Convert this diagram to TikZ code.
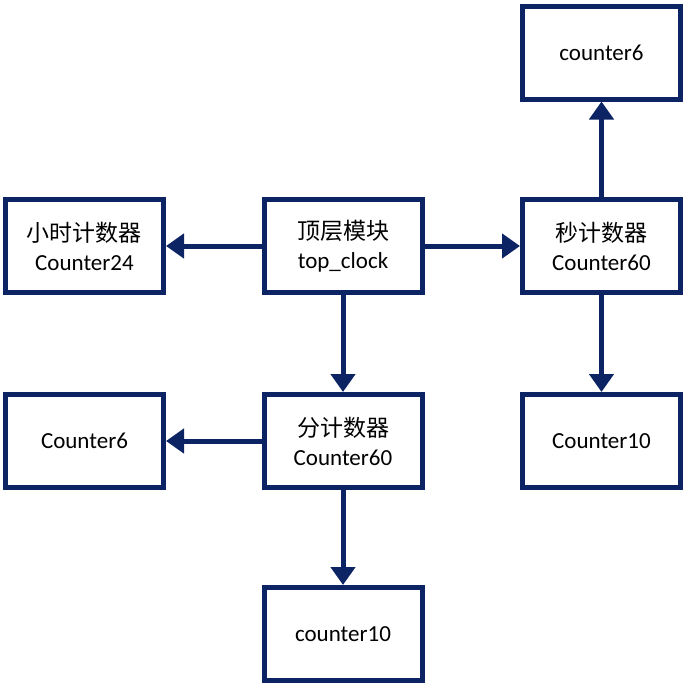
\documentclass[tikz,border=0pt]{standalone}
\usepackage{fontspec}
\setmainfont{Carlito}
\newfontfamily\cjk{Noto Sans CJK SC}
\usetikzlibrary{arrows.meta}
\definecolor{navy}{HTML}{0C2463}
\begin{document}
\begin{tikzpicture}[x=1pt,y=-1pt,
  box/.style={draw=navy,line width=5pt,minimum width=158pt,minimum height=93pt,align=center,font=\fontsize{23}{29}\selectfont,inner sep=0pt},
  arr/.style={draw=navy,line width=5pt,-{Triangle[length=18pt,width=24pt]}}]
\useasboundingbox (0,0) rectangle (688,688);
\node[box] (c6) at (601.5,52.5) {counter6};
\node[box] (h) at (84.5,246) {{\cjk 小时计数器}\\Counter24};
\node[box] (top) at (343,246) {{\cjk 顶层模块}\\top\_clock};
\node[box] (s) at (601.5,246) {{\cjk 秒计数器}\\Counter60};
\node[box] (m6) at (84.5,441) {Counter6};
\node[box] (m) at (343,441) {{\cjk 分计数器}\\Counter60};
\node[box] (s10) at (601.5,441) {Counter10};
\node[box] (m10) at (343,634) {counter10};
\draw[arr] (top) -- (h);
\draw[arr] (top) -- (s);
\draw[arr] (top) -- (m);
\draw[arr] (s) -- (c6);
\draw[arr] (s) -- (s10);
\draw[arr] (m) -- (m6);
\draw[arr] (m) -- (m10);
\end{tikzpicture}
\end{document}
